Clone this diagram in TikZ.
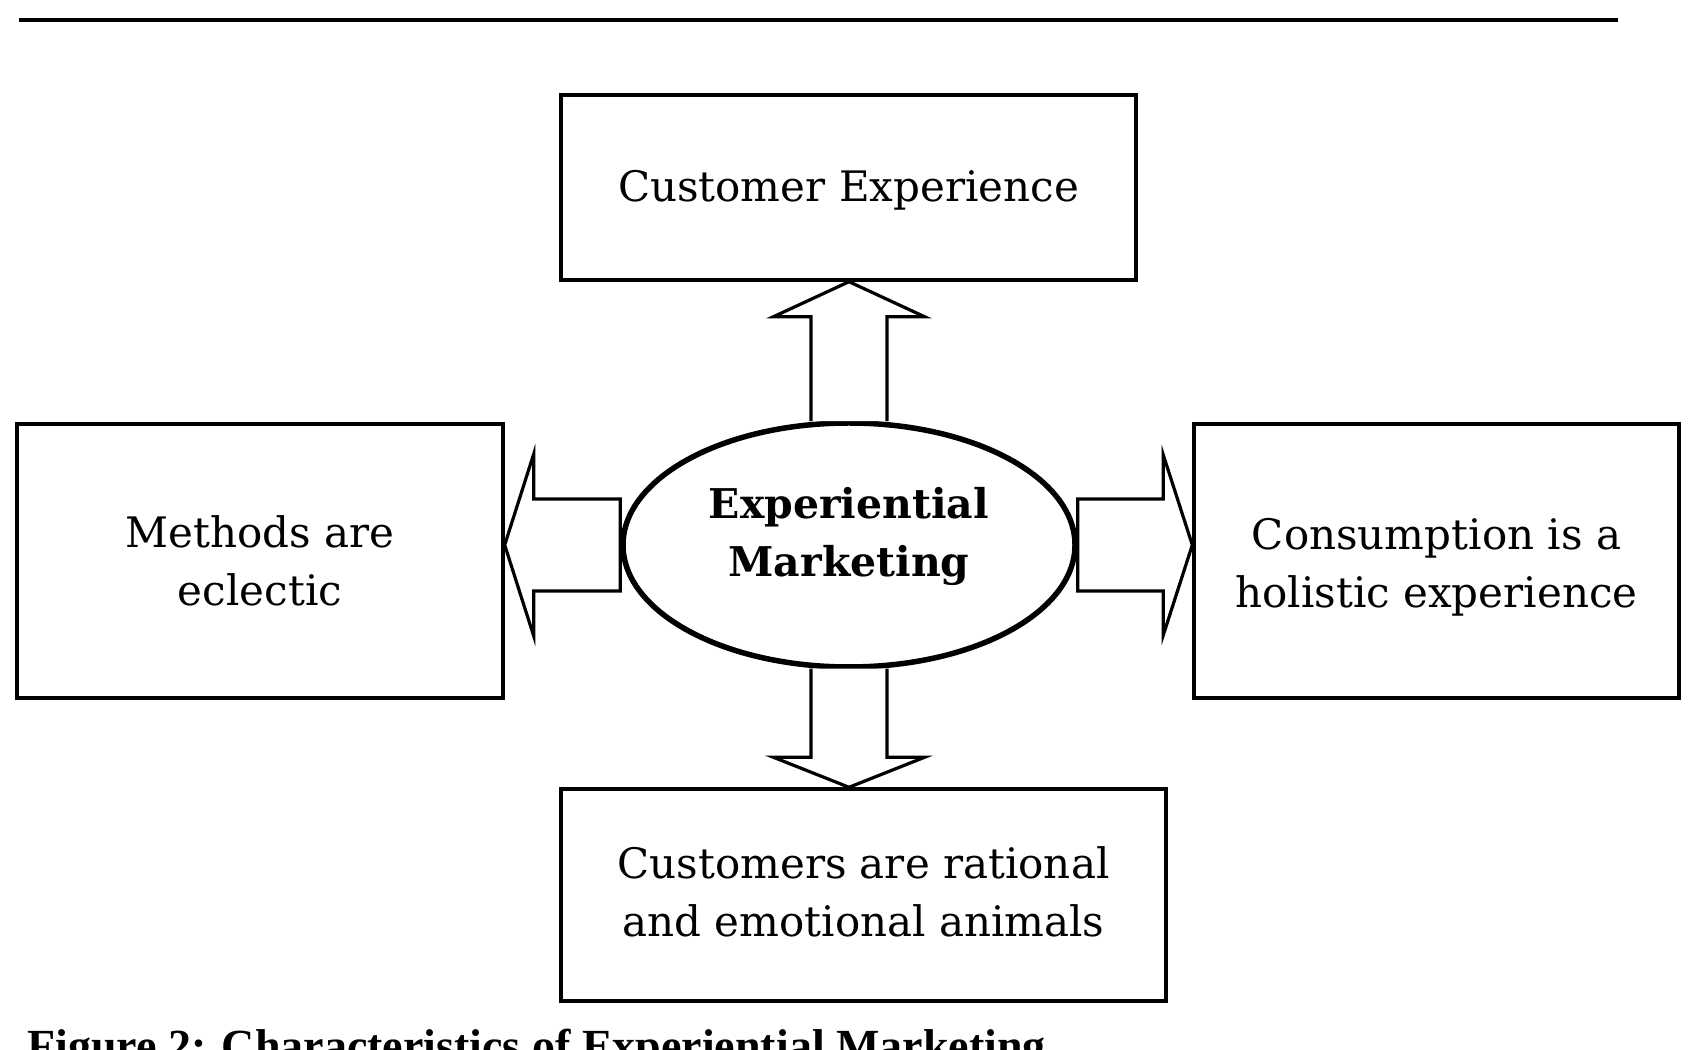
\documentclass[tikz,border=0pt]{standalone}
\usepackage{fontspec}
\setmainfont{DejaVu Serif}
\newfontfamily\capfont{Liberation Serif}
\usetikzlibrary{calc,shapes.geometric}
\tikzset{
  box/.style={draw, line width=3.4pt, rectangle, inner sep=0pt},
  boxtext/.style={inner sep=0pt, align=center, font=\fontsize{42}{58}\selectfont},
  hubtext/.style={inner sep=0pt, align=center, font=\bfseries\fontsize{41}{58}\selectfont},
  blockarrow/.style={draw, line width=3.2pt, fill=white, line join=miter},
  hub/.style={draw, ellipse, line width=5.5pt, inner sep=0pt,
    minimum width=452pt, minimum height=244pt}
}
\begin{document}
\begin{tikzpicture}[x=1pt,y=1pt]
\clip (0,0) rectangle (1688,1049);
\fill[white] (0,0) rectangle (1688,1049);
\draw[line width=3.4pt] (19,1029) -- (1618,1029);
% boxes
\node[box, minimum width=575pt, minimum height=185pt] (top) at (848.5,861.5) {};
\node[box, minimum width=486pt, minimum height=274pt] (lb) at (260,488) {};
\node[box, minimum width=485pt, minimum height=274pt] (rb) at (1436.5,488) {};
\node[box, minimum width=605pt, minimum height=212pt] (bb) at (863.5,154) {};
\node[boxtext] (topt) at ($(top.center)+(0,-3)$) {Customer Experience};
\node[boxtext] (lbt) at (lb.center) {Methods are\\eclectic};
\node[boxtext] (rbt) at ($(rb.center)+(0,-6.5)$) {Consumption is a\\holistic experience};
\node[boxtext] (bbt) at ($(bb.center)+(0,3.5)$) {Customers are rational\\and emotional animals};
% hub
\node[hub] (em) at (849,504) {};
\node[hubtext] (emt) at ($(em.center)+(0,9)$) {Experiential\\Marketing};
% up arrow
\draw[blockarrow] let \p1=(em.north), \p2=(top.south) in
  (\x1-38,\y1-1) -- (\x1-38,\y2-35) -- (\x1-75.5,\y2-35) -- (\x1,\y2)
  -- (\x1+75.5,\y2-35) -- (\x1+38,\y2-35) -- (\x1+38,\y1-1);
% down arrow
\draw[blockarrow] let \p1=(em.south), \p2=(bb.north) in
  (\x1-38,\y1+1) -- (\x1-38,\y2+30) -- (\x1-75.5,\y2+30) -- (\x1,\y2)
  -- (\x1+75.5,\y2+30) -- (\x1+38,\y2+30) -- (\x1+38,\y1+1);
% left arrow
\draw[blockarrow] let \p1=(em.west), \p2=(lb.east) in
  (\x1,\y1+46) -- (\x2+29,\y1+46) -- (\x2+29,\y1+91) -- (\x2,\y1)
  -- (\x2+29,\y1-91) -- (\x2+29,\y1-46) -- (\x1,\y1-46) -- cycle;
% right arrow
\draw[blockarrow] let \p1=(em.east), \p2=(rb.west) in
  (\x1,\y1+46) -- (\x2-29,\y1+46) -- (\x2-29,\y1+90) -- (\x2,\y1)
  -- (\x2-29,\y1-90) -- (\x2-29,\y1-46) -- (\x1,\y1-46) -- cycle;
% caption (cut off by the page edge)
\node[anchor=base west, inner sep=0pt, font=\capfont\bfseries\fontsize{46}{52}\selectfont] (cap) at (27,-12) {Figure 2: Characteristics of Experiential Marketing};
\end{tikzpicture}
\end{document}
